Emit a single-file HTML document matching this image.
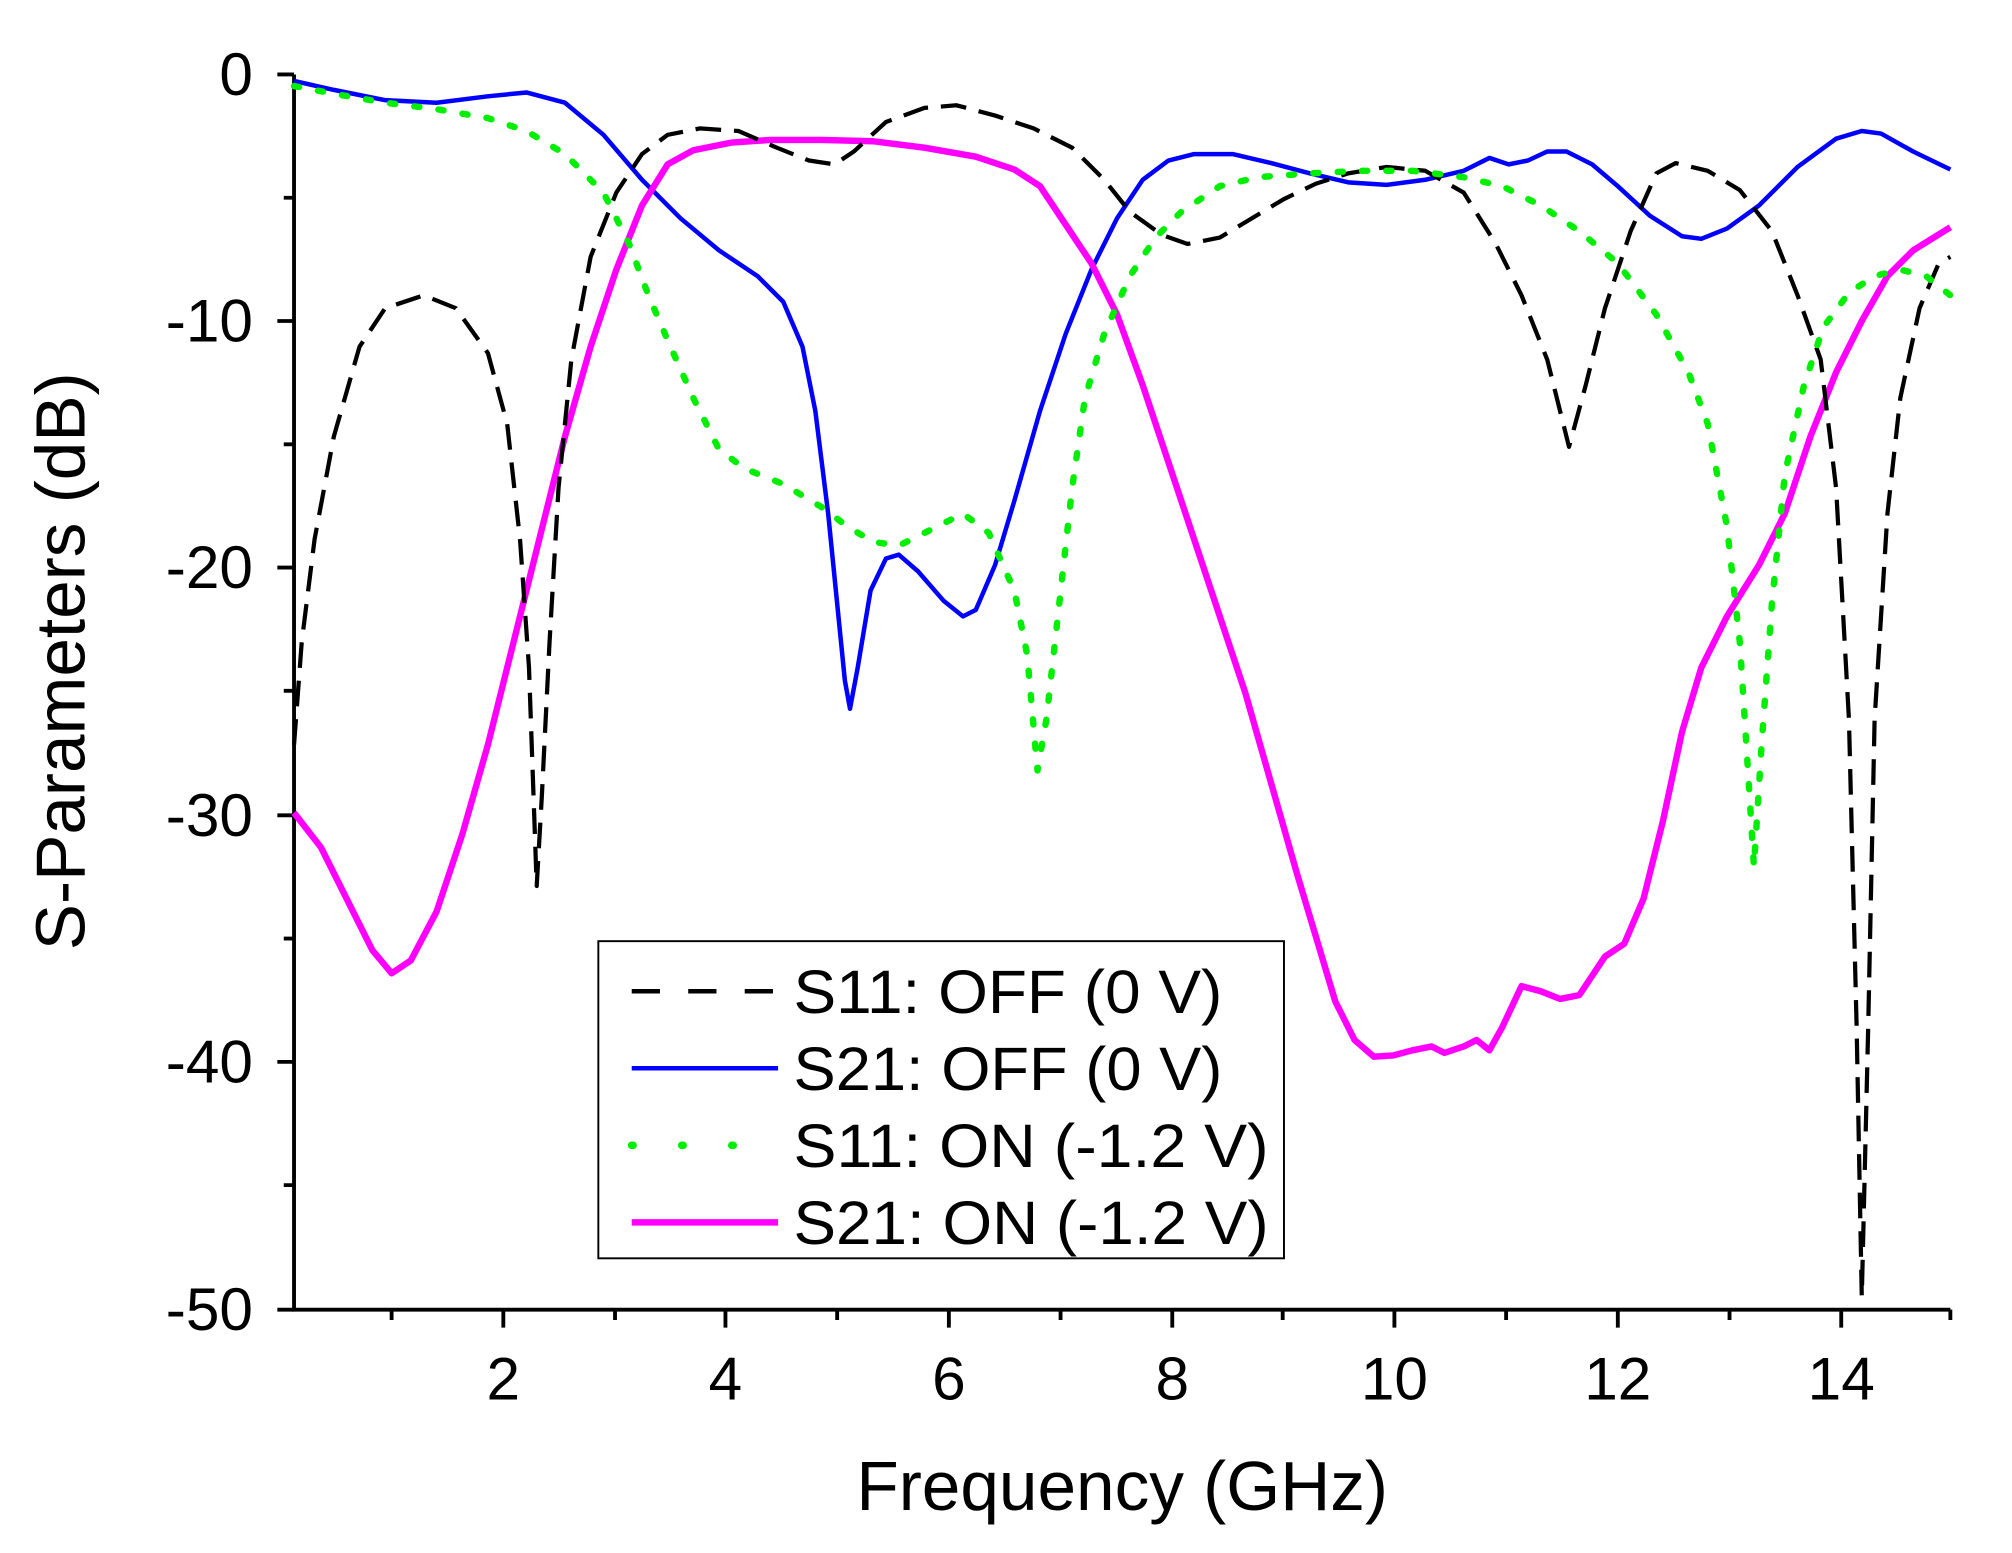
<!DOCTYPE html>
<html><head><meta charset="utf-8"><style>html,body{margin:0;padding:0;background:#fff}svg{display:block}</style></head>
<body>
<svg width="2012" height="1553" viewBox="0 0 1567 1209.5" xmlns="http://www.w3.org/2000/svg" font-family="Liberation Sans, sans-serif">
<rect width="1567" height="1210" fill="#fff"/>
<g stroke="#000" stroke-width="3" fill="none">
<path d="M229,58 V1020 H1519"/>
<path d="M216,58H229 M216,250H229 M216,442H229 M216,635H229 M216,827H229 M216,1020H229"/>
<path d="M221,154H229 M221,346H229 M221,538H229 M221,731H229 M221,923H229"/>
<path d="M392,1020V1034 M565,1020V1034 M739,1020V1034 M913,1020V1034 M1086,1020V1034 M1260,1020V1034 M1434,1020V1034"/>
<path d="M305,1020V1028 M479,1020V1028 M652,1020V1028 M826,1020V1028 M999,1020V1028 M1173,1020V1028 M1347,1020V1028 M1519,1020V1028"/>
</g>
<g font-size="47" text-anchor="end" fill="#000">
<text x="197" y="74">0</text><text x="197" y="266">-10</text><text x="197" y="458">-20</text><text x="197" y="651">-30</text><text x="197" y="843">-40</text><text x="197" y="1036">-50</text>
</g>
<g font-size="47" text-anchor="middle" fill="#000">
<text x="392" y="1090">2</text><text x="565" y="1090">4</text><text x="739" y="1090">6</text><text x="913" y="1090">8</text><text x="1086" y="1090">10</text><text x="1260" y="1090">12</text><text x="1434" y="1090">14</text>
</g>
<text x="874" y="1176" font-size="54" text-anchor="middle">Frequency (GHz)</text>
<text transform="translate(66,515) rotate(-90)" font-size="54" text-anchor="middle">S-Parameters (dB)</text>
<g fill="none" stroke-linejoin="round">
<polyline stroke="#0000ff" stroke-width="3.5" points="229,63 260,70 300,78 340,80 380,75 410,72 440,80 470,105 500,140 530,170 560,195 590,215 610,235 625,270 635,320 645,400 652,470 658,530 662,552 668,520 678,460 690,435 700,432 715,445 735,468 750,480 760,475 775,440 790,390 810,320 830,260 850,210 870,170 890,140 910,125 930,120 960,120 990,127 1020,135 1050,142 1080,144 1110,140 1140,133 1160,123 1175,128 1190,125 1205,118 1220,118 1240,128 1260,145 1285,168 1310,184 1325,186 1345,178 1370,160 1400,130 1430,108 1450,102 1465,104 1490,118 1519,132"/>
<polyline stroke="#ff00ff" stroke-width="5" points="229,633 250,660 270,700 290,740 305,758 320,748 340,710 360,650 380,580 400,500 420,420 440,340 460,270 480,210 500,160 520,128 540,117 570,111 600,109 640,109 680,110 720,115 760,122 790,132 810,145 830,175 850,205 870,245 890,300 910,360 930,420 950,480 970,540 990,610 1010,680 1025,730 1040,780 1055,810 1070,823 1085,822 1100,818 1115,815 1125,820 1140,815 1150,810 1160,818 1170,800 1185,768 1200,772 1215,778 1230,775 1250,745 1265,735 1280,700 1295,640 1310,570 1325,520 1345,480 1370,440 1390,400 1410,340 1430,290 1450,250 1470,215 1490,195 1519,177"/>
<polyline stroke="#000" stroke-width="3.3" stroke-dasharray="20,10" points="229,580 235,500 245,420 260,340 280,270 300,240 330,230 355,240 380,275 395,330 405,420 412,520 418,690 422,620 428,500 435,380 445,280 460,200 480,150 500,120 520,105 545,100 575,102 605,115 630,125 650,128 665,118 690,95 720,84 745,82 775,90 805,100 835,115 860,140 880,165 905,183 925,190 950,185 975,170 1000,155 1025,143 1050,135 1080,130 1110,133 1140,150 1165,190 1185,230 1205,280 1222,348 1235,300 1250,240 1270,180 1290,135 1305,127 1330,133 1355,148 1380,180 1400,230 1418,280 1430,380 1440,560 1446,800 1450,1010 1455,800 1460,560 1470,400 1480,310 1495,240 1510,205 1519,200"/>
<polyline stroke="#00ee00" stroke-width="5" stroke-linecap="round" stroke-dasharray="4,15" points="229,67 260,73 300,80 340,85 380,92 410,102 440,120 470,150 490,190 505,230 520,265 540,310 560,350 580,365 610,377 640,395 660,410 680,422 700,425 720,415 750,400 770,415 790,460 800,510 808,600 815,560 825,470 835,380 845,310 860,260 880,215 900,185 920,165 950,145 980,138 1020,135 1060,133 1100,133 1140,138 1170,145 1200,160 1230,180 1260,205 1290,245 1315,290 1330,330 1345,410 1355,500 1362,610 1366,675 1372,580 1380,470 1390,370 1405,300 1420,255 1440,228 1460,215 1480,210 1500,215 1519,230"/>
</g>
<rect x="466" y="733" width="534" height="247" fill="#fff" stroke="#000" stroke-width="1.5"/>
<line x1="492" y1="772" x2="606" y2="772" stroke="#000" stroke-width="3.5" stroke-dasharray="22,22"/>
<line x1="492" y1="832" x2="606" y2="832" stroke="#0000ff" stroke-width="3.5"/>
<line x1="492" y1="892" x2="606" y2="892" stroke="#00ee00" stroke-width="6" stroke-linecap="round" stroke-dasharray="1,38"/>
<line x1="492" y1="952" x2="606" y2="952" stroke="#ff00ff" stroke-width="5"/>
<g font-size="48" fill="#000">
<text x="618" y="789" textLength="334" lengthAdjust="spacingAndGlyphs">S11: OFF (0 V)</text>
<text x="618" y="849" textLength="334" lengthAdjust="spacingAndGlyphs">S21: OFF (0 V)</text>
<text x="618" y="909" textLength="370" lengthAdjust="spacingAndGlyphs">S11: ON (-1.2 V)</text>
<text x="618" y="969" textLength="370" lengthAdjust="spacingAndGlyphs">S21: ON (-1.2 V)</text>
</g>
</svg>
</body></html>
